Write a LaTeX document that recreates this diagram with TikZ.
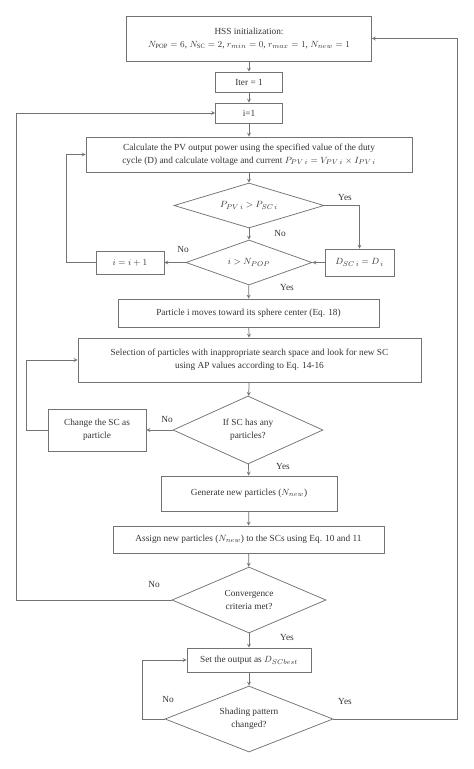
\documentclass[tikz,border=0pt]{standalone}
\usepackage{amsmath}
\usepackage{amssymb}
\usepackage{fontspec}
\setmainfont{Liberation Serif}
\usepackage{xcolor}
\usetikzlibrary{shapes.geometric}
\definecolor{linegray}{gray}{0.45}
\definecolor{txtgray}{gray}{0.2}

\begin{document}
\begin{tikzpicture}[x=1pt,y=-1pt,>=stealth,
  box/.style={draw=linegray,line width=0.75pt,align=center,inner sep=2pt,text=txtgray,font=\fontsize{9.3}{13}\selectfont},
  cond/.style={draw=linegray,line width=0.75pt,diamond,aspect=2.3,inner sep=0pt,align=center,text=txtgray,font=\fontsize{9.3}{13}\selectfont},
  lbl/.style={text=txtgray,font=\fontsize{9.3}{11}\selectfont},
  flow/.style={->,draw=linegray,line width=0.75pt}]
  \useasboundingbox (0,0) rectangle (474,769);
  % main column
  \node[box,minimum width=245pt,minimum height=45pt] (hss) at (249,38.5)
    {HSS initialization:\\ $N_{\mathrm{POP}}=6$, $N_{\mathrm{SC}}=2$, $r_{min}=0$, $r_{max}=1$, $N_{new}=1$};
  \node[box,minimum width=67pt,minimum height=20pt] (iter) at (249,82) {Iter = 1};
  \node[box,minimum width=67pt,minimum height=20pt] (ione) at (249,113) {i=1};
  \node[box,minimum width=326pt,minimum height=35pt] (calc) at (249,154.5)
    {Calculate the PV output power using the specified value of the duty\\
     cycle (D) and calculate voltage and current $P_{PV\,i}=V_{PV\,i}\times I_{PV\,i}$};
  \node[cond,minimum width=150pt,minimum height=45pt] (cmp) at (249,205.5) {$P_{PV\,i}>P_{SC\,i}$};
  \node[cond,minimum width=126pt,minimum height=45pt] (npop) at (249,262.5) {$i>N_{POP}$};
  \node[box,minimum width=68pt,minimum height=23pt] (inc) at (130,262.5) {$i=i+1$};
  \node[box,minimum width=69pt,minimum height=27pt] (dsc) at (359.5,262.5) {$D_{SC\,i}=D_{\,i}$};
  \node[box,minimum width=261pt,minimum height=28pt] (move) at (248.5,313)
    {Particle i moves toward its sphere center (Eq. 18)};
  \node[box,minimum width=343pt,minimum height=44pt] (sel) at (249.5,360)
    {Selection of particles with inappropriate search space and look for new SC\\
     using AP values according to Eq. 14-16};
  \node[cond,minimum width=150pt,minimum height=68pt] (any) at (248,430) {If SC has any\\particles?};
  \node[box,minimum width=98pt,minimum height=42pt] (chg) at (97,430) {Change the SC as\\particle};
  \node[box,minimum width=176pt,minimum height=35pt] (gen) at (249,493.5) {Generate new particles ($N_{new}$)};
  \node[box,minimum width=271pt,minimum height=27pt] (asg) at (248.5,539.5)
    {Assign new particles ($N_{new}$) to the SCs using Eq. 10 and 11};
  \node[cond,minimum width=154pt,minimum height=66pt] (conv) at (249,600) {Convergence\\criteria met?};
  \node[box,minimum width=124pt,minimum height=24pt] (out) at (249,660) {Set the output as $D_{SCbest}$};
  \node[cond,minimum width=168pt,minimum height=66pt] (shade) at (249,719) {Shading pattern\\changed?};

  % yes / no labels
  \foreach \px/\py/\txt/\nm in {280/233/No/nocmp,345/197/Yes/yescmp,183/249/No/nonpop,287/287/Yes/yesnpop,
    167/419/No/noany,283/466/Yes/yesany,154/584/No/noconv,287/637/Yes/yesconv,168/699/No/noshade,345/701/Yes/yesshade}
    \node[lbl] (\nm) at (\px,\py) {\txt};

  % straight links
  \draw[flow] (hss) -- (iter);
  \draw[flow] (iter) -- (ione);
  \draw[flow] (ione) -- (calc);
  \draw[flow] (calc) -- (cmp);
  \draw[flow] (cmp) -- (npop);
  \draw[flow] (cmp.east) -| (dsc.north);
  \draw[flow] (dsc) -- (npop);
  \draw[flow] (npop) -- (inc);
  \draw[flow] (npop) -- (move);
  \draw[flow] (move) -- (sel);
  \draw[flow] (sel) -- (any);
  \draw[flow] (any) -- (chg);
  \draw[flow] (any) -- (gen);
  \draw[flow] (gen) -- (asg);
  \draw[flow] (asg) -- (conv);
  \draw[flow] (conv) -- (out);
  \draw[flow] (out) -- (shade);

  % loops back
  \draw[flow] (inc.west) -- ++(-29,0) |- (calc.west);
  \draw[flow] (chg.west) -- ++(-21,0) |- (sel.west);
  \draw[flow] (conv.west) -- ++(-155,0) |- (ione.west);
  \draw[flow] (shade.west) -- ++(-22,0) |- (out.west);
  \draw[flow] (shade.east) -- ++(124,0) |- (hss.east);
\end{tikzpicture}
\end{document}
